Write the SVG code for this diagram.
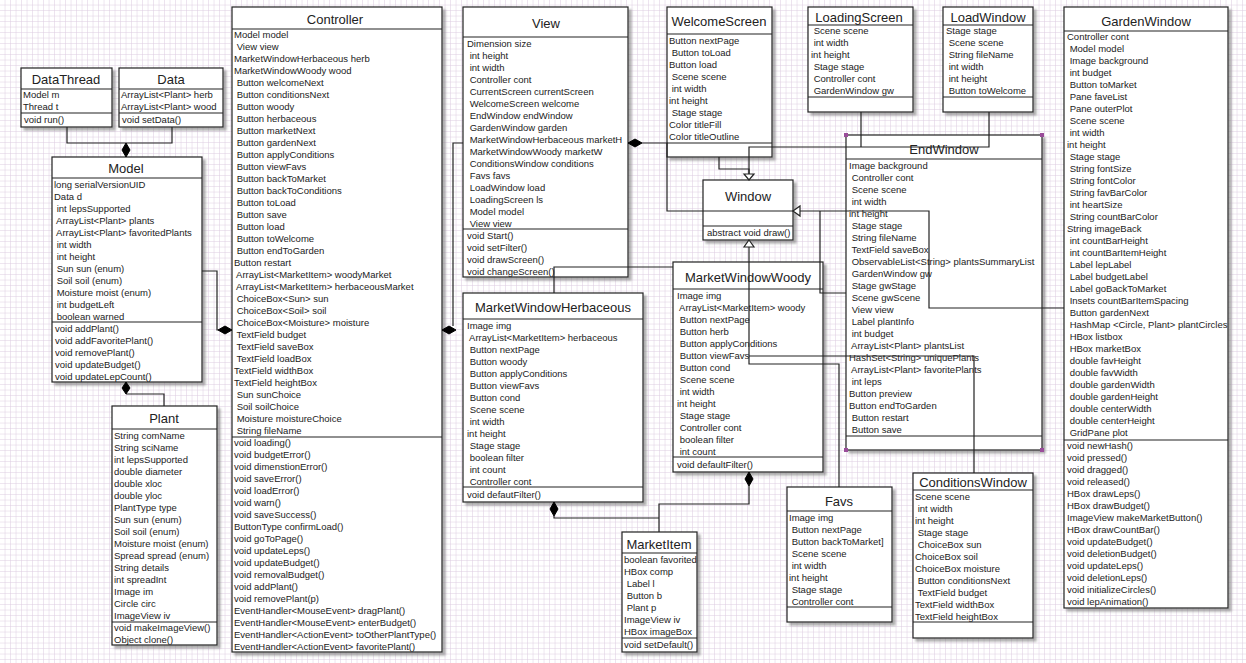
<svg xmlns="http://www.w3.org/2000/svg" width="1246" height="663" viewBox="0 0 1246 663" xml:space="preserve">
<defs>
<pattern id="grid" width="5.5" height="5.5" patternUnits="userSpaceOnUse"><path d="M5.5 0V5.5H0" fill="none" stroke="#dccbe0" stroke-width="1"/></pattern>
<filter id="sh" x="-5%" y="-5%" width="115%" height="115%"><feDropShadow dx="3" dy="3" stdDeviation="1" flood-color="#777" flood-opacity="0.6"/></filter>
<style>
.box{fill:#fff;stroke:#222;stroke-width:1.2;filter:url(#sh)}
.div{stroke:#222;stroke-width:1.2}
.t{font-family:"Liberation Sans",Arial,sans-serif;font-size:13px;fill:#222;text-anchor:middle}
.m{font-family:"Liberation Sans",Arial,sans-serif;font-size:9.5px;fill:#222;white-space:pre;transform:translateY(-1px)}
.c{fill:none;stroke:#222;stroke-width:1.2}
.dia{fill:#000;stroke:#000}
.tri{fill:#fff;stroke:#222;stroke-width:1.2}
.h{fill:#9a4c9a}
</style>
</defs>
<rect width="1246" height="663" fill="#fff"/>
<rect width="1246" height="663" fill="url(#grid)"/>

<g id="DataThread"><rect class="box" x="21" y="68" width="91" height="59"/><line class="div" x1="21" y1="89" x2="112" y2="89"/><line class="div" x1="21" y1="113" x2="112" y2="113"/>
<text class="t" x="66" y="84">DataThread</text>
<text class="m" x="23" y="99">Model m</text><text class="m" x="23" y="111">Thread t</text><text class="m" x="24" y="124">void run()</text></g>

<g id="Data"><rect class="box" x="119" y="68" width="104" height="59"/><line class="div" x1="119" y1="89" x2="223" y2="89"/><line class="div" x1="119" y1="113" x2="223" y2="113"/>
<text class="t" x="171" y="84">Data</text>
<text class="m" x="121" y="99">ArrayList&lt;Plant&gt; herb</text><text class="m" x="121" y="111">ArrayList&lt;Plant&gt; wood</text><text class="m" x="122" y="124">void setData()</text></g>

<g id="Model"><rect class="box" x="52" y="157" width="150" height="225"/><line class="div" x1="52" y1="178" x2="202" y2="178"/><line class="div" x1="52" y1="322" x2="202" y2="322"/>
<text class="t" x="126" y="173">Model</text>
<text class="m" x="54" y="189"><tspan x="54" dy="0">long serialVersionUID</tspan><tspan x="54" dy="12">Data d</tspan><tspan x="54" dy="12"> int lepsSupported</tspan><tspan x="54" dy="12"> ArrayList&lt;Plant&gt; plants</tspan><tspan x="54" dy="12"> ArrayList&lt;Plant&gt; favoritedPlants</tspan><tspan x="54" dy="12"> int width</tspan><tspan x="54" dy="12"> int height</tspan><tspan x="54" dy="12"> Sun sun (enum)</tspan><tspan x="54" dy="12"> Soil soil (enum)</tspan><tspan x="54" dy="12"> Moisture moist (enum)</tspan><tspan x="54" dy="12"> int budgetLeft</tspan><tspan x="54" dy="12"> boolean warned</tspan></text>
<text class="m" x="55" y="333"><tspan x="55" dy="0">void addPlant()</tspan><tspan x="55" dy="12">void addFavoritePlant()</tspan><tspan x="55" dy="12">void removePlant()</tspan><tspan x="55" dy="12">void updateBudget()</tspan><tspan x="55" dy="12">void updateLepCount()</tspan></text></g>

<g id="Plant"><rect class="box" x="112" y="406" width="105" height="239"/><line class="div" x1="112" y1="429" x2="217" y2="429"/><line class="div" x1="112" y1="622" x2="217" y2="622"/>
<text class="t" x="164" y="423">Plant</text>
<text class="m" x="114" y="440"><tspan x="114" dy="0">String comName</tspan><tspan x="114" dy="12">String sciName</tspan><tspan x="114" dy="12">int lepsSupported</tspan><tspan x="114" dy="12">double diameter</tspan><tspan x="114" dy="12">double xloc</tspan><tspan x="114" dy="12">double yloc</tspan><tspan x="114" dy="12">PlantType type</tspan><tspan x="114" dy="12">Sun sun (enum)</tspan><tspan x="114" dy="12">Soil soil (enum)</tspan><tspan x="114" dy="12">Moisture moist (enum)</tspan><tspan x="114" dy="12">Spread spread (enum)</tspan><tspan x="114" dy="12">String details</tspan><tspan x="114" dy="12">int spreadInt</tspan><tspan x="114" dy="12">Image im</tspan><tspan x="114" dy="12">Circle circ</tspan><tspan x="114" dy="12">ImageView iv</tspan></text>
<text class="m" x="114" y="632"><tspan x="114" dy="0">void makeImageView()</tspan><tspan x="114" dy="12">Object clone()</tspan></text></g>

<g id="Controller"><rect class="box" x="232" y="7" width="210" height="645"/><line class="div" x1="232" y1="29" x2="442" y2="29"/><line class="div" x1="232" y1="437" x2="442" y2="437"/>
<text class="t" x="335" y="24">Controller</text>
<text class="m" x="234" y="39"><tspan x="234" dy="0">Model model</tspan><tspan x="234" dy="12"> View view</tspan><tspan x="234" dy="12">MarketWindowHerbaceous herb</tspan><tspan x="234" dy="12">MarketWindowWoody wood</tspan><tspan x="234" dy="12"> Button welcomeNext</tspan><tspan x="234" dy="12"> Button conditionsNext</tspan><tspan x="234" dy="12"> Button woody</tspan><tspan x="234" dy="12"> Button herbaceous</tspan><tspan x="234" dy="12"> Button marketNext</tspan><tspan x="234" dy="12"> Button gardenNext</tspan><tspan x="234" dy="12"> Button applyConditions</tspan><tspan x="234" dy="12"> Button viewFavs</tspan><tspan x="234" dy="12"> Button backToMarket</tspan><tspan x="234" dy="12"> Button backToConditions</tspan><tspan x="234" dy="12"> Button toLoad</tspan><tspan x="234" dy="12"> Button save</tspan><tspan x="234" dy="12"> Button load</tspan><tspan x="234" dy="12"> Button toWelcome</tspan><tspan x="234" dy="12"> Button endToGarden</tspan><tspan x="234" dy="12">Button restart</tspan><tspan x="234" dy="12"> ArrayList&lt;MarketItem&gt; woodyMarket</tspan><tspan x="234" dy="12"> ArrayList&lt;MarketItem&gt; herbaceousMarket</tspan><tspan x="234" dy="12"> ChoiceBox&lt;Sun&gt; sun</tspan><tspan x="234" dy="12"> ChoiceBox&lt;Soil&gt; soil</tspan><tspan x="234" dy="12"> ChoiceBox&lt;Moisture&gt; moisture</tspan><tspan x="234" dy="12"> TextField budget</tspan><tspan x="234" dy="12"> TextField saveBox</tspan><tspan x="234" dy="12"> TextField loadBox</tspan><tspan x="234" dy="12">TextField widthBox</tspan><tspan x="234" dy="12">TextField heightBox</tspan><tspan x="234" dy="12"> Sun sunChoice</tspan><tspan x="234" dy="12"> Soil soilChoice</tspan><tspan x="234" dy="12"> Moisture moistureChoice</tspan><tspan x="234" dy="12"> String fileName</tspan></text>
<text class="m" x="234" y="447"><tspan x="234" dy="0">void loading()</tspan><tspan x="234" dy="12">void budgetError()</tspan><tspan x="234" dy="12">void dimenstionError()</tspan><tspan x="234" dy="12">void saveError()</tspan><tspan x="234" dy="12">void loadError()</tspan><tspan x="234" dy="12">void warn()</tspan><tspan x="234" dy="12">void saveSuccess()</tspan><tspan x="234" dy="12">ButtonType confirmLoad()</tspan><tspan x="234" dy="12">void goToPage()</tspan><tspan x="234" dy="12">void updateLeps()</tspan><tspan x="234" dy="12">void updateBudget()</tspan><tspan x="234" dy="12">void removalBudget()</tspan><tspan x="234" dy="12">void addPlant()</tspan><tspan x="234" dy="12">void removePlant(p)</tspan><tspan x="234" dy="12">EventHandler&lt;MouseEvent&gt; dragPlant()</tspan><tspan x="234" dy="12">EventHandler&lt;MouseEvent&gt; enterBudget()</tspan><tspan x="234" dy="12">EventHandler&lt;ActionEvent&gt; toOtherPlantType()</tspan><tspan x="234" dy="12">EventHandler&lt;ActionEvent&gt; favoritePlant()</tspan></text></g>

<g id="View"><rect class="box" x="463" y="7" width="165" height="270"/><line class="div" x1="463" y1="37" x2="628" y2="37"/><line class="div" x1="463" y1="229" x2="628" y2="229"/>
<text class="t" x="546" y="28">View</text>
<text class="m" x="467" y="48"><tspan x="467" dy="0">Dimension size</tspan><tspan x="467" dy="12"> int height</tspan><tspan x="467" dy="12"> int width</tspan><tspan x="467" dy="12"> Controller cont</tspan><tspan x="467" dy="12"> CurrentScreen currentScreen</tspan><tspan x="467" dy="12"> WelcomeScreen welcome</tspan><tspan x="467" dy="12"> EndWindow endWindow</tspan><tspan x="467" dy="12"> GardenWindow garden</tspan><tspan x="467" dy="12"> MarketWindowHerbaceous marketH</tspan><tspan x="467" dy="12"> MarketWindowWoody marketW</tspan><tspan x="467" dy="12"> ConditionsWindow conditions</tspan><tspan x="467" dy="12"> Favs favs</tspan><tspan x="467" dy="12"> LoadWindow load</tspan><tspan x="467" dy="12"> LoadingScreen ls</tspan><tspan x="467" dy="12"> Model model</tspan><tspan x="467" dy="12"> View view</tspan></text>
<text class="m" x="467" y="240"><tspan x="467" dy="0">void Start()</tspan><tspan x="467" dy="12">void setFilter()</tspan><tspan x="467" dy="12">void drawScreen()</tspan><tspan x="467" dy="12">void changeScreen()</tspan></text></g>

<g id="WelcomeScreen"><rect class="box" x="667" y="7" width="105" height="150"/><line class="div" x1="667" y1="34" x2="772" y2="34"/><line class="div" x1="667" y1="143" x2="772" y2="143"/>
<text class="t" x="719" y="26">WelcomeScreen</text>
<text class="m" x="669" y="45"><tspan x="669" dy="0">Button nextPage</tspan><tspan x="669" dy="12"> Button toLoad</tspan><tspan x="669" dy="12">Button load</tspan><tspan x="669" dy="12"> Scene scene</tspan><tspan x="669" dy="12"> int width</tspan><tspan x="669" dy="12">int height</tspan><tspan x="669" dy="12"> Stage stage</tspan><tspan x="669" dy="12">Color titleFill</tspan><tspan x="669" dy="12">Color titleOutline</tspan></text></g>

<g id="LoadingScreen"><rect class="box" x="808" y="7" width="105" height="105"/><line class="div" x1="808" y1="25" x2="913" y2="25"/><line class="div" x1="808" y1="97" x2="913" y2="97"/>
<text class="t" x="859" y="22">LoadingScreen</text>
<text class="m" x="811" y="35"><tspan x="811" dy="0"> Scene scene</tspan><tspan x="811" dy="12"> int width</tspan><tspan x="811" dy="12">int height</tspan><tspan x="811" dy="12"> Stage stage</tspan><tspan x="811" dy="12"> Controller cont</tspan><tspan x="811" dy="12"> GardenWindow gw</tspan></text></g>

<g id="LoadWindow"><rect class="box" x="943" y="7" width="90" height="105"/><line class="div" x1="943" y1="25" x2="1033" y2="25"/><line class="div" x1="943" y1="97" x2="1033" y2="97"/>
<text class="t" x="988" y="22">LoadWindow</text>
<text class="m" x="946" y="35"><tspan x="946" dy="0">Stage stage</tspan><tspan x="946" dy="12"> Scene scene</tspan><tspan x="946" dy="12"> String fileName</tspan><tspan x="946" dy="12"> int width</tspan><tspan x="946" dy="12"> int height</tspan><tspan x="946" dy="12"> Button toWelcome</tspan></text></g>

<g id="GardenWindow"><rect class="box" x="1064" y="7" width="164" height="601"/><line class="div" x1="1064" y1="31" x2="1228" y2="31"/><line class="div" x1="1064" y1="440" x2="1228" y2="440"/>
<text class="t" x="1146" y="26">GardenWindow</text>
<text class="m" x="1067" y="41"><tspan x="1067" dy="0">Controller cont</tspan><tspan x="1067" dy="12"> Model model</tspan><tspan x="1067" dy="12"> Image background</tspan><tspan x="1067" dy="12"> int budget</tspan><tspan x="1067" dy="12"> Button toMarket</tspan><tspan x="1067" dy="12"> Pane faveList</tspan><tspan x="1067" dy="12"> Pane outerPlot</tspan><tspan x="1067" dy="12"> Scene scene</tspan><tspan x="1067" dy="12"> int width</tspan><tspan x="1067" dy="12">int height</tspan><tspan x="1067" dy="12"> Stage stage</tspan><tspan x="1067" dy="12"> String fontSize</tspan><tspan x="1067" dy="12"> String fontColor</tspan><tspan x="1067" dy="12"> String favBarColor</tspan><tspan x="1067" dy="12"> int heartSize</tspan><tspan x="1067" dy="12"> String countBarColor</tspan><tspan x="1067" dy="12">String imageBack</tspan><tspan x="1067" dy="12"> int countBarHeight</tspan><tspan x="1067" dy="12"> int countBarItemHeight</tspan><tspan x="1067" dy="12"> Label lepLabel</tspan><tspan x="1067" dy="12"> Label budgetLabel</tspan><tspan x="1067" dy="12"> Label goBackToMarket</tspan><tspan x="1067" dy="12"> Insets countBarItemSpacing</tspan><tspan x="1067" dy="12"> Button gardenNext</tspan><tspan x="1067" dy="12"> HashMap &lt;Circle, Plant&gt; plantCircles</tspan><tspan x="1067" dy="12"> HBox listbox</tspan><tspan x="1067" dy="12"> HBox marketBox</tspan><tspan x="1067" dy="12"> double favHeight</tspan><tspan x="1067" dy="12"> double favWidth</tspan><tspan x="1067" dy="12"> double gardenWidth</tspan><tspan x="1067" dy="12"> double gardenHeight</tspan><tspan x="1067" dy="12"> double centerWidth</tspan><tspan x="1067" dy="12"> double centerHeight</tspan><tspan x="1067" dy="12"> GridPane plot</tspan></text>
<text class="m" x="1067" y="450"><tspan x="1067" dy="0">void newHash()</tspan><tspan x="1067" dy="12">void pressed()</tspan><tspan x="1067" dy="12">void dragged()</tspan><tspan x="1067" dy="12">void released()</tspan><tspan x="1067" dy="12">HBox drawLeps()</tspan><tspan x="1067" dy="12">HBox drawBudget()</tspan><tspan x="1067" dy="12">ImageView makeMarketButton()</tspan><tspan x="1067" dy="12">HBox drawCountBar()</tspan><tspan x="1067" dy="12">void updateBudget()</tspan><tspan x="1067" dy="12">void deletionBudget()</tspan><tspan x="1067" dy="12">void updateLeps()</tspan><tspan x="1067" dy="12">void deletionLeps()</tspan><tspan x="1067" dy="12">void initializeCircles()</tspan><tspan x="1067" dy="12">void lepAnimation()</tspan></text></g>

<g id="Window"><rect class="box" x="703" y="180" width="90" height="60"/><line class="div" x1="703" y1="211" x2="793" y2="211"/><line class="div" x1="703" y1="226" x2="793" y2="226"/>
<text class="t" x="748" y="201">Window</text>
<text class="m" x="707" y="237">abstract void draw()</text></g>

<g id="EndWindow"><rect class="box" x="846" y="135" width="196" height="315"/><line class="div" x1="846" y1="159" x2="1042" y2="159"/><line class="div" x1="846" y1="436" x2="1042" y2="436"/>
<text class="t" x="944" y="154">EndWindow</text>
<text class="m" x="849" y="170"><tspan x="849" dy="0">Image background</tspan><tspan x="849" dy="12"> Controller cont</tspan><tspan x="849" dy="12"> Scene scene</tspan><tspan x="849" dy="12"> int width</tspan><tspan x="849" dy="12">int height</tspan><tspan x="849" dy="12"> Stage stage</tspan><tspan x="849" dy="12"> String fileName</tspan><tspan x="849" dy="12"> TextField saveBox</tspan><tspan x="849" dy="12"> ObservableList&lt;String&gt; plantsSummaryList</tspan><tspan x="849" dy="12"> GardenWindow gw</tspan><tspan x="849" dy="12"> Stage gwStage</tspan><tspan x="849" dy="12"> Scene gwScene</tspan><tspan x="849" dy="12"> View view</tspan><tspan x="849" dy="12"> Label plantInfo</tspan><tspan x="849" dy="12"> int budget</tspan><tspan x="849" dy="12"> ArrayList&lt;Plant&gt; plantsList</tspan><tspan x="849" dy="12">HashSet&lt;String&gt; uniquePlants</tspan><tspan x="849" dy="12"> ArrayList&lt;Plant&gt; favoritePlants</tspan><tspan x="849" dy="12"> int leps</tspan><tspan x="849" dy="12">Button preview</tspan><tspan x="849" dy="12">Button endToGarden</tspan><tspan x="849" dy="12"> Button restart</tspan><tspan x="849" dy="12"> Button save</tspan></text>
<rect class="h" x="844" y="133" width="4" height="4"/><rect class="h" x="1040" y="133" width="4" height="4"/><rect class="h" x="844" y="448" width="4" height="4"/><rect class="h" x="1040" y="448" width="4" height="4"/></g>

<g id="MarketWindowHerbaceous"><rect class="box" x="463" y="293" width="180" height="209"/><line class="div" x1="463" y1="319" x2="643" y2="319"/><line class="div" x1="463" y1="487" x2="643" y2="487"/>
<text class="t" x="553" y="312">MarketWindowHerbaceous</text>
<text class="m" x="467" y="330"><tspan x="467" dy="0">Image img</tspan><tspan x="467" dy="12"> ArrayList&lt;MarketItem&gt; herbaceous</tspan><tspan x="467" dy="12"> Button nextPage</tspan><tspan x="467" dy="12"> Button woody</tspan><tspan x="467" dy="12"> Button applyConditions</tspan><tspan x="467" dy="12"> Button viewFavs</tspan><tspan x="467" dy="12"> Button cond</tspan><tspan x="467" dy="12"> Scene scene</tspan><tspan x="467" dy="12"> int width</tspan><tspan x="467" dy="12">int height</tspan><tspan x="467" dy="12"> Stage stage</tspan><tspan x="467" dy="12"> boolean filter</tspan><tspan x="467" dy="12"> int count</tspan><tspan x="467" dy="12"> Controller cont</tspan></text>
<text class="m" x="467" y="499">void defautFilter()</text></g>

<g id="MarketWindowWoody"><rect class="box" x="673" y="262" width="150" height="210"/><line class="div" x1="673" y1="289" x2="823" y2="289"/><line class="div" x1="673" y1="457" x2="823" y2="457"/>
<text class="t" x="748" y="282">MarketWindowWoody</text>
<text class="m" x="677" y="300"><tspan x="677" dy="0">Image img</tspan><tspan x="677" dy="12"> ArrayList&lt;MarketItem&gt; woody</tspan><tspan x="677" dy="12"> Button nextPage</tspan><tspan x="677" dy="12"> Button herb</tspan><tspan x="677" dy="12"> Button applyConditions</tspan><tspan x="677" dy="12"> Button viewFavs</tspan><tspan x="677" dy="12"> Button cond</tspan><tspan x="677" dy="12"> Scene scene</tspan><tspan x="677" dy="12"> int width</tspan><tspan x="677" dy="12">int height</tspan><tspan x="677" dy="12"> Stage stage</tspan><tspan x="677" dy="12"> Controller cont</tspan><tspan x="677" dy="12"> boolean filter</tspan><tspan x="677" dy="12"> int count</tspan></text>
<text class="m" x="677" y="469">void defaultFilter()</text></g>

<g id="MarketItem"><rect class="box" x="622" y="532" width="75" height="120"/><line class="div" x1="622" y1="553" x2="697" y2="553"/><line class="div" x1="622" y1="638" x2="697" y2="638"/>
<text class="t" x="659" y="549">MarketItem</text>
<text class="m" x="624" y="564"><tspan x="624" dy="0">boolean favorited</tspan><tspan x="624" dy="12">HBox comp</tspan><tspan x="624" dy="12"> Label l</tspan><tspan x="624" dy="12"> Button b</tspan><tspan x="624" dy="12"> Plant p</tspan><tspan x="624" dy="12">ImageView iv</tspan><tspan x="624" dy="12">HBox imageBox</tspan></text>
<text class="m" x="624" y="649">void setDefault()</text></g>

<g id="Favs"><rect class="box" x="787" y="487" width="105" height="135"/><line class="div" x1="787" y1="511" x2="892" y2="511"/><line class="div" x1="787" y1="607" x2="892" y2="607"/>
<text class="t" x="839" y="506">Favs</text>
<text class="m" x="789" y="522"><tspan x="789" dy="0">Image img</tspan><tspan x="789" dy="12"> Button nextPage</tspan><tspan x="789" dy="12"> Button backToMarket]</tspan><tspan x="789" dy="12"> Scene scene</tspan><tspan x="789" dy="12"> int width</tspan><tspan x="789" dy="12">int height</tspan><tspan x="789" dy="12"> Stage stage</tspan><tspan x="789" dy="12"> Controller cont</tspan></text></g>

<g id="ConditionsWindow"><rect class="box" x="913" y="473" width="120" height="165"/><line class="div" x1="913" y1="490" x2="1033" y2="490"/><line class="div" x1="913" y1="622" x2="1033" y2="622"/>
<text class="t" x="973" y="487">ConditionsWindow</text>
<text class="m" x="915" y="501"><tspan x="915" dy="0">Scene scene</tspan><tspan x="915" dy="12"> int width</tspan><tspan x="915" dy="12">int height</tspan><tspan x="915" dy="12"> Stage stage</tspan><tspan x="915" dy="12"> ChoiceBox sun</tspan><tspan x="915" dy="12">ChoiceBox soil</tspan><tspan x="915" dy="12">ChoiceBox moisture</tspan><tspan x="915" dy="12"> Button conditionsNext</tspan><tspan x="915" dy="12"> TextField budget</tspan><tspan x="915" dy="12">TextField widthBox</tspan><tspan x="915" dy="12">TextField heightBox</tspan></text></g>

<g id="connectors">
<path class="c" d="M67 127V143H172V127"/><polygon class="dia" points="126,143 130,150 126,157 122,150"/>
<path class="c" d="M126 394H164V406"/><polygon class="dia" points="126,382 130,388 126,394 122,388"/>
<path class="c" d="M202 271H217V330H218"/><polygon class="dia" points="218,330 225,326 232,330 225,334"/>
<path class="c" d="M463 143H453V326"/><polygon class="dia" points="442,330 449,326 456,330 449,334"/>
<path class="c" d="M642 143H667V211H703"/><polygon class="dia" points="628,143 635,139 642,143 635,147"/>
<path class="c" d="M719 157V169H749V174"/>
<path class="c" d="M989 112V147H749V174M861 112V147"/>
<polygon class="tri" points="744,174 754,174 749,180"/>
<path class="c" d="M800 211H929V308H1064"/><polygon class="tri" points="793,211 800,206 800,216"/>
<path class="c" d="M820 211V293H846"/>
<path class="c" d="M749 247V364H839V487"/><polygon class="tri" points="749,240 754,247 744,247"/>
<path class="c" d="M749 356H974V473"/>
<path class="c" d="M554 293V267H673"/>
<path class="c" d="M554 516V518H659V532M659 518V504H749V486"/>
<polygon class="dia" points="554,502 558,509 554,516 550,509"/>
<polygon class="dia" points="749,472 753,479 749,486 745,479"/>
</g>
</svg>
